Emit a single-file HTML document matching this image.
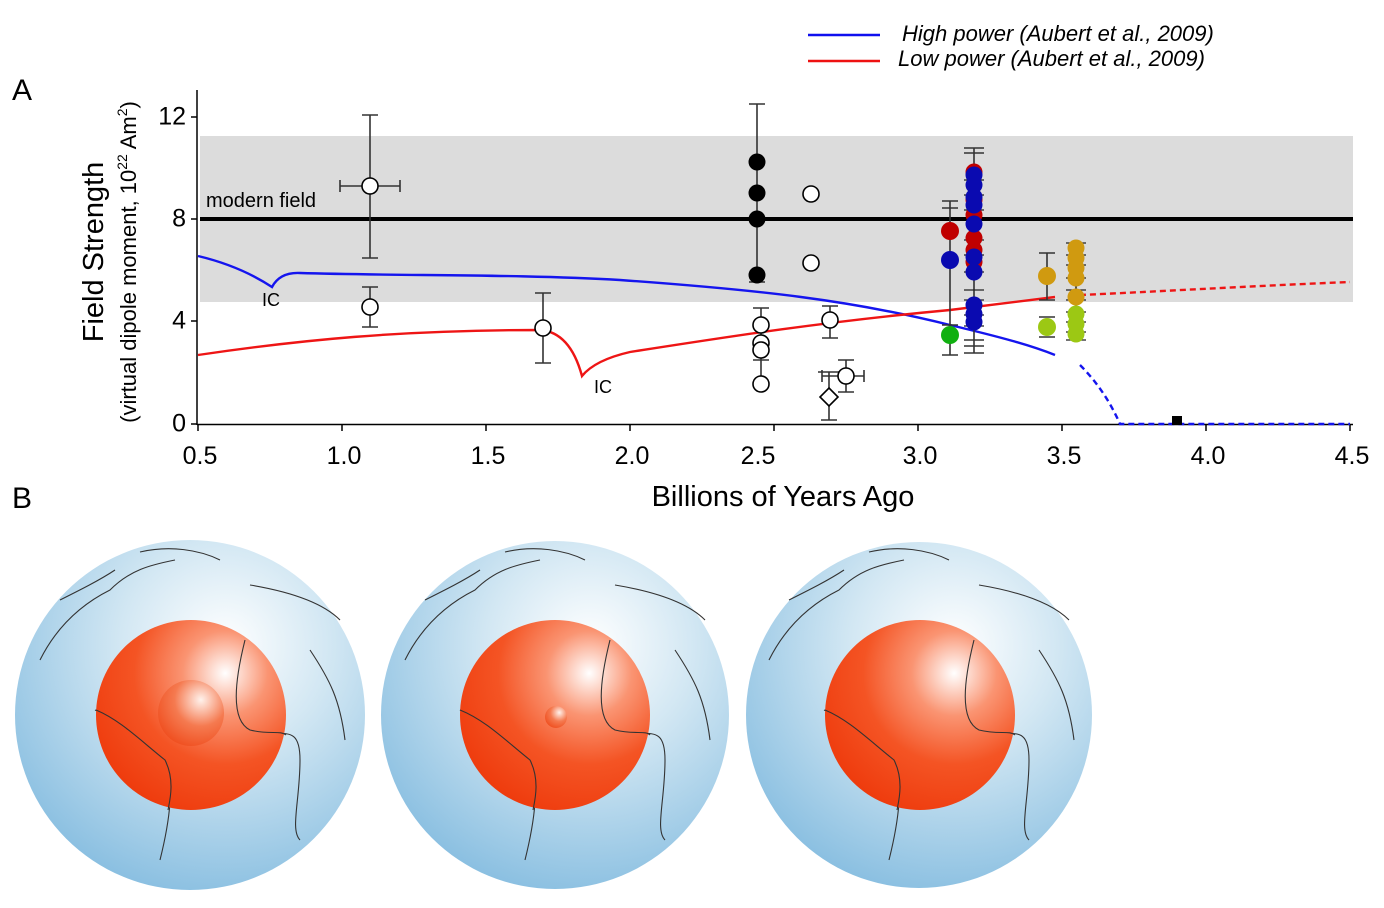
<!DOCTYPE html>
<html><head><meta charset="utf-8"><style>
body{margin:0;background:#fff;width:1384px;height:908px;overflow:hidden}
svg{display:block}
text{font-family:"Liberation Sans",sans-serif}
</style></head><body>
<svg width="1384" height="908" viewBox="0 0 1384 908" xmlns="http://www.w3.org/2000/svg">
<defs>
<radialGradient id="gb" cx="0.6" cy="0.3" r="0.75">
<stop offset="0" stop-color="#ffffff"/><stop offset="0.4" stop-color="#d2e7f3"/><stop offset="1" stop-color="#86bde0"/></radialGradient>
<radialGradient id="gc" cx="0.68" cy="0.28" r="0.8">
<stop offset="0" stop-color="#ffffff"/><stop offset="0.28" stop-color="#fa9472"/><stop offset="0.6" stop-color="#f45424"/><stop offset="1" stop-color="#ee3a0c"/></radialGradient>
<radialGradient id="gi" cx="0.65" cy="0.3" r="0.8">
<stop offset="0" stop-color="#fff2ec"/><stop offset="0.5" stop-color="#f57a50"/><stop offset="1" stop-color="#ef4a1a"/></radialGradient>
</defs>

<!-- legend -->
<line x1="808" y1="35" x2="880" y2="35" stroke="#1010ee" stroke-width="2.5"/>
<text x="902" y="35" font-size="22" font-style="italic" dominant-baseline="middle">High power (Aubert et al., 2009)</text>
<line x1="808" y1="61" x2="880" y2="61" stroke="#ee1111" stroke-width="2.5"/>
<text x="898" y="60" font-size="22" font-style="italic" dominant-baseline="middle">Low power (Aubert et al., 2009)</text>

<text x="12" y="100" font-size="30">A</text>
<text x="12" y="508" font-size="30">B</text>

<!-- band -->
<rect x="200" y="136" width="1153" height="166" fill="#dcdcdc"/>
<line x1="200" y1="219" x2="1353" y2="219" stroke="#000" stroke-width="4"/>
<text x="206" y="207" font-size="20">modern field</text>

<!-- axes -->
<line x1="197" y1="90" x2="197" y2="425" stroke="#000" stroke-width="1.5"/>
<line x1="197" y1="424.5" x2="1353" y2="424.5" stroke="#000" stroke-width="1.5"/>
<g stroke="#000" stroke-width="1.5">
<line x1="191" y1="117" x2="197" y2="117"/><line x1="191" y1="219" x2="197" y2="219"/><line x1="191" y1="321" x2="197" y2="321"/><line x1="191" y1="424" x2="197" y2="424"/>
<line x1="198" y1="424" x2="198" y2="431"/><line x1="342" y1="424" x2="342" y2="431"/><line x1="486" y1="424" x2="486" y2="431"/><line x1="630" y1="424" x2="630" y2="431"/><line x1="774" y1="424" x2="774" y2="431"/><line x1="918" y1="424" x2="918" y2="431"/><line x1="1062" y1="424" x2="1062" y2="431"/><line x1="1206" y1="424" x2="1206" y2="431"/><line x1="1350" y1="424" x2="1350" y2="431"/>
</g>
<g font-size="25" text-anchor="end" dominant-baseline="middle">
<text x="186" y="118">12</text><text x="186" y="220">8</text><text x="186" y="322">4</text><text x="186" y="425">0</text>
</g>
<g font-size="25" text-anchor="middle">
<text x="200" y="464">0.5</text><text x="344" y="464">1.0</text><text x="488" y="464">1.5</text><text x="632" y="464">2.0</text><text x="758" y="464">2.5</text><text x="920" y="464">3.0</text><text x="1064" y="464">3.5</text><text x="1208" y="464">4.0</text><text x="1352" y="464">4.5</text>
</g>
<text x="783" y="506" font-size="29" text-anchor="middle">Billions of Years Ago</text>
<text transform="translate(103,252) rotate(-90)" font-size="29" text-anchor="middle">Field Strength</text>
<text transform="translate(136,262) rotate(-90)" font-size="22" text-anchor="middle">(virtual dipole moment, 10<tspan font-size="14" dy="-9">22</tspan><tspan dy="9"> Am</tspan><tspan font-size="14" dy="-9">2</tspan><tspan dy="9">)</tspan></text>

<!-- curves -->
<path d="M198,256 Q240,266 272,287 Q280,272 300,273 C400,276 520,274 620,280 C760,290 850,300 950,325 C1000,337 1030,345 1055,355" fill="none" stroke="#1515ee" stroke-width="2.4"/>
<path d="M1080,365 Q1105,390 1120,424 L1350,424" fill="none" stroke="#1515ee" stroke-width="2.4" stroke-dasharray="6,4"/>
<path d="M198,355 C300,340 400,330 540,330 Q570,332 582,376 Q595,360 630,352 C720,338 820,322 950,310 C1000,304 1030,300 1055,297" fill="none" stroke="#ee1515" stroke-width="2.4"/>
<path d="M1080,295 C1150,292 1250,286 1350,282" fill="none" stroke="#ee1515" stroke-width="2.4" stroke-dasharray="6,4"/>
<text x="262" y="306" font-size="18">IC</text>
<text x="594" y="393" font-size="18">IC</text>

<!-- error bars -->
<g stroke="#333" stroke-width="1.6" fill="none">
<path d="M370,115V258M362,115H378M362,258H378M340,186H400M340,180V192M400,180V192"/>
<path d="M370,287V327M362,287H378M362,327H378"/>
<path d="M543,293V363M535,293H551M535,363H551"/>
<path d="M757,104V282M749,104H765M749,282H765"/>
<path d="M761,308V384M753,308H769M753,360H769"/>
<path d="M830,306V338M822,306H838M822,338H838"/>
<path d="M829,372V420M821,372H837M821,420H837M818,372H842"/>
<path d="M846,360V392M838,360H854M838,392H854M822,376H864M822,370V382M864,370V382"/>
<path d="M950,201V355M942,201H958M942,208H958M942,355H958M942,325H958"/>
<path d="M974,148V353M964,148H984M964,153H984M964,340H984M964,346H984M964,353H984"/>
<path d="M1047,253V300M1039,253H1055M1039,300H1055M1039,317H1055M1039,337H1055"/>
<path d="M1076,243V340"/>
</g>
<g stroke="#222" stroke-width="1.3">
<path d="M964,180H984M964,195H984M964,210H984M964,240H984M964,255H984M964,272H984M964,290H984M964,300H984M964,315H984M964,326H984"/>
<path d="M1066,243H1086M1066,255H1086M1066,265H1086M1066,278H1086M1066,290H1086M1066,300H1086M1066,312H1086M1066,322H1086M1066,332H1086M1066,340H1086"/>
</g>

<!-- open circles -->
<g fill="#fff" stroke="#000" stroke-width="1.6">
<circle cx="370" cy="186" r="8"/><circle cx="370" cy="307" r="8"/><circle cx="543" cy="328" r="8"/>
<circle cx="761" cy="325" r="8"/><circle cx="761" cy="343" r="8"/><circle cx="761" cy="350" r="8"/><circle cx="761" cy="384" r="8"/>
<circle cx="811" cy="194" r="8"/><circle cx="811" cy="263" r="8"/><circle cx="830" cy="320" r="8"/><circle cx="846" cy="376" r="8"/>
<path d="M829,388L838,397L829,406L820,397Z"/>
</g>
<g fill="#000"><circle cx="757" cy="162" r="8.5"/><circle cx="757" cy="193" r="8.5"/><circle cx="757" cy="219" r="8.5"/><circle cx="757" cy="275" r="8.5"/>
<rect x="1172" y="416" width="10" height="9"/></g>

<!-- colored -->
<circle cx="950" cy="231" r="9" fill="#c00000"/><circle cx="950" cy="260" r="9" fill="#0a0ab0"/><circle cx="950" cy="335" r="9" fill="#10b010"/>
<g fill="#c00000"><circle cx="974" cy="172" r="8.5"/><circle cx="974" cy="200" r="8.5"/><circle cx="974" cy="215" r="8.5"/><circle cx="974" cy="238" r="8.5"/><circle cx="974" cy="250" r="8.5"/><circle cx="974" cy="262" r="8.5"/></g>
<g fill="#0a0ab0"><circle cx="974" cy="175" r="8.5"/><circle cx="974" cy="185" r="8.5"/><circle cx="974" cy="197" r="8.5"/><circle cx="974" cy="205" r="8.5"/><circle cx="974" cy="224" r="8.5"/><circle cx="974" cy="257" r="8.5"/><circle cx="974" cy="272" r="8.5"/><circle cx="974" cy="305" r="8.5"/><circle cx="974" cy="314" r="8.5"/><circle cx="974" cy="322" r="8.5"/></g>
<circle cx="1047" cy="276" r="9" fill="#d09a10"/><circle cx="1047" cy="327" r="9" fill="#9cc814"/>
<g fill="#d09a10"><circle cx="1076" cy="248" r="8.5"/><circle cx="1076" cy="258" r="8.5"/><circle cx="1076" cy="268" r="8.5"/><circle cx="1076" cy="278" r="8.5"/><circle cx="1076" cy="297" r="8.5"/></g>
<g fill="#9cc814"><circle cx="1076" cy="314" r="8.5"/><circle cx="1076" cy="324" r="8.5"/><circle cx="1076" cy="334" r="8.5"/></g>

<!-- globes -->
<circle cx="190" cy="715" r="175" fill="url(#gb)"/>
<circle cx="555" cy="715" r="174" fill="url(#gb)"/>
<circle cx="919" cy="715" r="173" fill="url(#gb)"/>
<g stroke="#333" stroke-width="1.1" fill="none">
<path d="M40,660 C60,620 90,600 110,590 C130,570 150,565 175,560 M60,600 C80,590 100,580 115,570 M95,710 C120,720 140,740 165,760 C175,780 170,820 160,860 M245,640 C235,680 230,720 250,730 C280,740 300,720 300,760 C300,800 290,830 300,840 M250,585 C280,590 320,600 340,620 M140,552 C170,545 200,550 220,560 M310,650 C330,680 340,700 345,740"/>
<path d="M405,660 C425,620 455,600 475,590 C495,570 515,565 540,560 M425,600 C445,590 465,580 480,570 M460,710 C485,720 505,740 530,760 C540,780 535,820 525,860 M610,640 C600,680 595,720 615,730 C645,740 665,720 665,760 C665,800 655,830 665,840 M615,585 C645,590 685,600 705,620 M505,552 C535,545 565,550 585,560 M675,650 C695,680 705,700 710,740"/>
<path d="M769,660 C789,620 819,600 839,590 C859,570 879,565 904,560 M789,600 C809,590 829,580 844,570 M824,710 C849,720 869,740 894,760 C904,780 899,820 889,860 M974,640 C964,680 959,720 979,730 C1009,740 1029,720 1029,760 C1029,800 1019,830 1029,840 M979,585 C1009,590 1049,600 1069,620 M869,552 C899,545 929,550 949,560 M1039,650 C1059,680 1069,700 1074,740"/>
</g>
<circle cx="191" cy="715" r="95" fill="url(#gc)"/>
<circle cx="191" cy="713" r="33" fill="url(#gi)"/>
<circle cx="555" cy="715" r="95" fill="url(#gc)"/>
<circle cx="556" cy="717" r="11" fill="url(#gi)"/>
<circle cx="920" cy="715" r="95" fill="url(#gc)"/>
<g stroke="#333" stroke-width="1.1" fill="none">
<path d="M96,710 C120,720 140,740 165,760 C175,780 170,800 168,810 M245,640 C235,680 230,720 250,730 C270,735 280,730 286,735"/>
<path d="M460,710 C485,720 505,740 530,760 C540,780 535,800 533,810 M610,640 C600,680 595,720 615,730 C635,735 645,730 650,735"/>
<path d="M825,710 C849,720 869,740 894,760 C904,780 899,800 897,810 M974,640 C964,680 959,720 979,730 C999,735 1009,730 1015,735"/>
</g>
</svg>
</body></html>
